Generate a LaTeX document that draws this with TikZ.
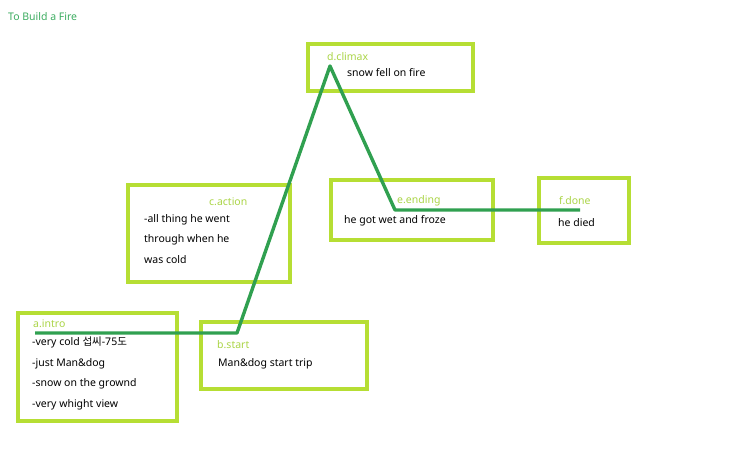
\documentclass[tikz,border=0pt]{standalone}
\usepackage{fontspec}
\setmainfont{Noto Sans}
\newfontfamily\kofont{Noto Sans CJK KR}
\definecolor{boxgreen}{RGB}{182,222,52}
\definecolor{linegreen}{RGB}{48,160,80}
\definecolor{tagcolor}{RGB}{170,212,70}
\definecolor{titlecolor}{RGB}{60,172,96}
\begin{document}
\begin{tikzpicture}[x=1pt,y=-1pt,font=\fontsize{10.5}{12}\selectfont]
\tikzset{
% frames around each part of the plot
plot box/.style={draw=boxgreen,line width=3.4pt},
tag/.style={anchor=west,inner sep=0pt,text=tagcolor},
body/.style={anchor=north west,inner sep=0pt,align=left,font=\fontsize{10.5}{20.5}\selectfont}
}
\useasboundingbox (0,0) rectangle (740,465);
\node[anchor=west,inner sep=0pt,text=titlecolor] (title) at (8,17) {To Build a Fire};

% the boxes
\draw[plot box] (18,313) rectangle (177,421);
\draw[plot box] (201,322) rectangle (367,389);
\draw[plot box] (128,185) rectangle (290,282);
\draw[plot box] (308,44) rectangle (473,91);
\draw[plot box] (331,180) rectangle (493,240);
\draw[plot box] (539,178) rectangle (629,243);

% the plot line
\coordinate (intro) at (35,333);
\coordinate (start) at (237,333);
\coordinate (climax) at (330,66);
\coordinate (ending) at (395,210);
\coordinate (done) at (580,210);
\draw[linegreen,line width=3.4pt,line join=round]
  (intro) -- (start) -- (climax) -- (ending) -- (done);

% texts
\node[tag] (a) at (33,324) {a.intro};
\node[body] (at) at (32,337) {-very cold {\kofont 섭씨}-75{\kofont 도}\\-just Man\&dog\\-snow on the grownd\\-very whight view};
\node[tag] (b) at (217,345) {b.start};
\node[anchor=west,inner sep=0pt] (bt) at (218,364) {Man\&dog start trip};
\node[tag] (c) at (209,202) {c.action};
\node[body] (ct) at (144,214) {-all thing he went\\through when he\\was cold};
\node[tag] (d) at (327,57) {d.climax};
\node[anchor=west,inner sep=0pt] (dt) at (347,73) {snow fell on fire};
\node[tag] (e) at (397,201) {e.ending};
\node[anchor=west,inner sep=0pt] (et) at (344,221) {he got wet and froze};
\node[tag] (f) at (559,201) {f.done};
\node[anchor=west,inner sep=0pt] (ft) at (558,223) {he died};
\end{tikzpicture}
\end{document}
